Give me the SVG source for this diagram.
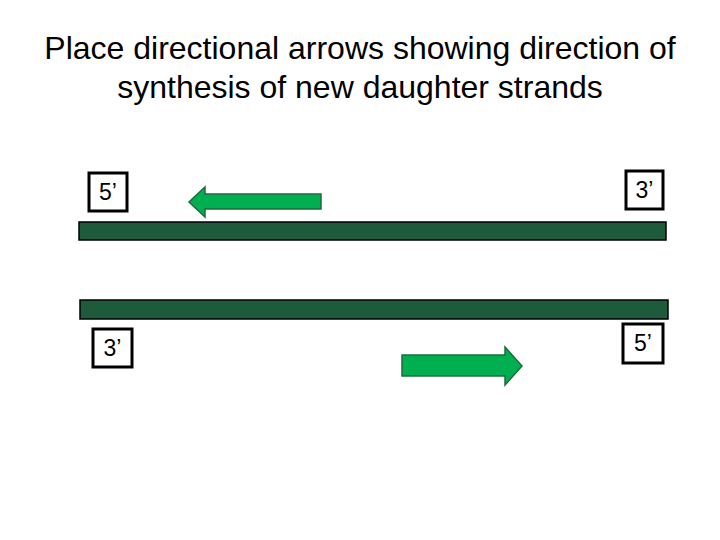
<svg xmlns="http://www.w3.org/2000/svg" width="720" height="540" viewBox="0 0 720 540">
<style>
.t{font-family:"Liberation Sans",Arial,sans-serif;fill:#000}
.title{font-size:32px;text-anchor:middle}
.lbl{font-size:23px;text-anchor:middle}
.box{fill:#fff;stroke:#000;stroke-width:3}
.strand{fill:#1e5b3c;stroke:#000;stroke-width:1.5}
.arrow{fill:#00b050;stroke:#1e6b3c;stroke-width:1.5}
</style>
<rect width="720" height="540" fill="#fff"/>
<g id="title">
<text class="t title" x="360" y="59">Place directional arrows showing direction of</text>
<text class="t title" x="360" y="98">synthesis of new daughter strands</text>
</g>
<g id="strand-top"><rect class="strand" x="79" y="222" width="587" height="18"/></g>
<g id="strand-bottom"><rect class="strand" x="80" y="300" width="588" height="19"/></g>
<g id="label-top-left"><rect class="box" x="89" y="173" width="38" height="38"/><text class="t lbl" x="108" y="200">5’</text></g>
<g id="label-top-right"><rect class="box" x="626" y="171" width="37" height="38"/><text class="t lbl" x="644.5" y="198">3’</text></g>
<g id="label-bottom-left"><rect class="box" x="93" y="329" width="39" height="38"/><text class="t lbl" x="112.5" y="356">3’</text></g>
<g id="label-bottom-right"><rect class="box" x="623" y="324" width="40" height="39"/><text class="t lbl" x="643" y="351">5’</text></g>
<g id="connectors">
<polygon class="arrow" points="321,194 205,194 205,187 189,202 205,217 205,209 321,209"/>
<polygon class="arrow" points="402,355 505,355 505,347 522,366 505,385 505,376 402,376"/>
</g>
</svg>
